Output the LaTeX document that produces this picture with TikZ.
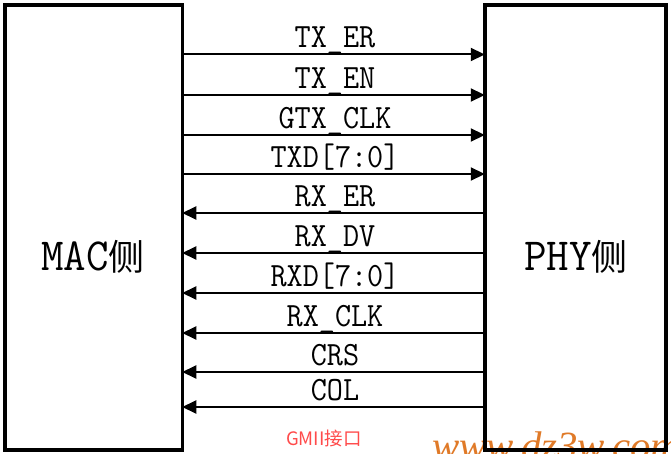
\documentclass[tikz,border=0pt]{standalone}
\usepackage{fontspec}
\setmainfont{Liberation Serif}
\newfontfamily\cjkf{Noto Sans CJK SC}
\usetikzlibrary{arrows.meta}
\definecolor{gmiired}{HTML}{FF4B4B}
\definecolor{wmorange}{HTML}{E07A28}
\tikzset{
  blockbox/.style={draw=black, line width=3.5pt, inner sep=0pt, outer sep=0pt},
  sig/.style={line width=2pt, -{Triangle[length=14pt,width=13pt]}},
  siglabel/.style={anchor=base, inner sep=0pt, font=\fontsize{34}{34}\ttfamily},
  sidelabel/.style={anchor=base, inner sep=0pt, font=\fontsize{46}{46}\ttfamily}
}
\newcommand{\sq}[2]{\scalebox{#1}[1]{#2}}
\begin{document}
\begin{tikzpicture}[x=1pt,y=-1pt]
\useasboundingbox (0,0) rectangle (671,454);
\fill[white] (0,0) rectangle (671,454);
% watermark
\node[anchor=base west, inner sep=0pt, text=wmorange, font=\fontsize{40}{40}\selectfont\itshape] (wm) at (432,459) {\sq{1.02}{www.dz3w.com}};
% boxes
\node[blockbox, minimum width=177.5pt, minimum height=445.25pt] (mac) at (93.5,227.4) {};
\node[blockbox, minimum width=181.25pt, minimum height=445.25pt] (phy) at (575.4,227.4) {};
% side labels
\node[sidelabel] (macl) at (93,270) {\sq{0.95}{MAC}{\cjkf\fontsize{36}{36}\selectfont 侧}};
\node[sidelabel] (phyl) at (576,270) {\sq{0.95}{PHY}{\cjkf\fontsize{36}{36}\selectfont 侧}};
% signal rows
\foreach \y/\lab/\dir [count=\i] in {
  54.5/TX\_ER/r, 95/TX\_EN/r, 135/GTX\_CLK/r, 174/TXD[7:0]/r,
  213/RX\_ER/l, 253/RX\_DV/l, 293/RXD[7:0]/l, 333/RX\_CLK/l,
  372/CRS/l, 407/COL/l}{
  \coordinate (a\i) at (mac.east |- 0,\y);
  \coordinate (b\i) at (phy.west |- 0,\y);
  \node[siglabel] (t\i) at (335,\y-6.5) {\sq{0.92}{\lab}};
  \if r\dir
    \draw[sig] (a\i) -- (b\i);
  \else
    \draw[sig] (b\i) -- (a\i);
  \fi
}
\node[anchor=base, inner sep=0pt, text=gmiired, font=\cjkf\fontsize{18.5}{18.5}\selectfont] (gmii) at (324,445) {GMII接口};
\end{tikzpicture}
\end{document}
